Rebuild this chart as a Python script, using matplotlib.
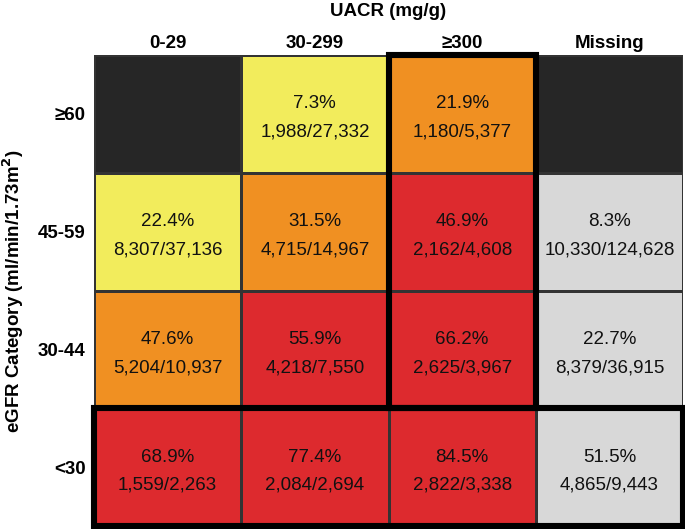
import matplotlib
matplotlib.use("Agg")
import matplotlib.pyplot as plt
from matplotlib.colors import ListedColormap
from matplotlib.patches import Rectangle
import numpy as np

plt.rcParams['font.family'] = ['Liberation Sans', 'DejaVu Sans']

uacr_labels = ["0-29", "30-299", "\u2265300", "Missing"]
egfr_labels = ["\u226560", "45-59", "30-44", "<30"]

pct = [
    [None, "7.3%", "21.9%", None],
    ["22.4%", "31.5%", "46.9%", "8.3%"],
    ["47.6%", "55.9%", "66.2%", "22.7%"],
    ["68.9%", "77.4%", "84.5%", "51.5%"],
]
counts = [
    [None, "1,988/27,332", "1,180/5,377", None],
    ["8,307/37,136", "4,715/14,967", "2,162/4,608", "10,330/124,628"],
    ["5,204/10,937", "4,218/7,550", "2,625/3,967", "8,379/36,915"],
    ["1,559/2,263", "2,084/2,694", "2,822/3,338", "4,865/9,443"],
]
# 0 = not applicable (dark), 1 = yellow, 2 = orange, 3 = red, 4 = missing (grey)
risk_class = [
    [0, 1, 2, 0],
    [1, 2, 3, 4],
    [2, 3, 3, 4],
    [3, 3, 3, 4],
]
palette = ["#262626", "#f2ec5c", "#f09022", "#dd2a2e", "#d8d8d8"]

fig = plt.figure(figsize=(6.85, 5.29), dpi=100)
ax = fig.add_axes([94/685, 3/529, (683-94)/685, (526-55)/529])

cmap = ListedColormap(palette)
ax.pcolormesh(np.arange(5), np.arange(5), np.array(risk_class), cmap=cmap,
              vmin=-0.5, vmax=4.5, edgecolors="#333333", linewidth=0.8)
ax.set_xlim(0, 4)
ax.set_ylim(4, 0)

for i in range(4):
    for j in range(4):
        if pct[i][j] is not None:
            ax.text(j + 0.5, i + 0.5 - 0.085, pct[i][j], ha="center", va="center",
                    fontsize=13.5, color="#111111")
            ax.text(j + 0.5, i + 0.5 + 0.155, counts[i][j], ha="center", va="center",
                    fontsize=13.5, color="#111111")

# highlight boxes
ax.add_patch(Rectangle((2, 0), 1, 3, fill=False, edgecolor="black", lw=4.4,
                       clip_on=False, zorder=5))
ax.add_patch(Rectangle((0, 3), 4, 1, fill=False, edgecolor="black", lw=4.4,
                       clip_on=False, zorder=5))

ax.set_xticks(np.arange(4) + 0.5)
ax.set_xticklabels(uacr_labels, fontsize=13.5, fontweight="bold")
ax.xaxis.tick_top()
ax.set_yticks(np.arange(4) + 0.5)
ax.set_yticklabels(egfr_labels, fontsize=13.5, fontweight="bold")
ax.tick_params(axis="x", length=0, pad=2)
ax.tick_params(axis="y", length=0, pad=6)
for s in ax.spines.values():
    s.set_visible(False)

fig.text(388/685, 1 - 12/529, "UACR (mg/g)", ha="center", va="center",
         fontsize=13.5, fontweight="bold")
fig.text(13/685, 1 - 291/529, "eGFR Category (ml/min/1.73m$^\\mathbf{2}$)", ha="center",
         va="center", rotation=90, fontsize=13.5, fontweight="bold")

fig.savefig("out.png", dpi=100)
